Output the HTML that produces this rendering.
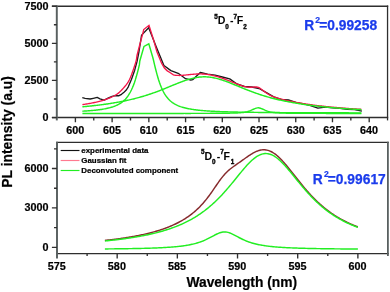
<!DOCTYPE html><html><head><meta charset="utf-8"><style>html,body{margin:0;padding:0;background:#fff;}svg{display:block;}</style></head><body><svg width="390" height="292" viewBox="0 0 390 292">
<rect width="390" height="292" fill="#fff"/>
<polyline points="82.30,97.70 85.10,98.30 90.10,99.00 93.30,98.30 97.20,97.40 100.00,98.80 104.20,100.10 108.00,98.20 112.10,96.40 115.00,95.70 119.00,95.70 121.50,94.30 124.00,92.20 126.30,90.00 128.30,86.80 131.50,79.20 134.70,70.20 137.00,61.50 139.00,51.50 141.60,35.10 148.70,27.80 156.20,46.80 163.90,65.50 170.90,70.60 178.20,73.30 185.60,78.70 190.80,80.00 192.90,79.60 200.30,72.50 207.60,74.10 215.00,75.20 222.30,77.00 229.70,78.90 237.00,84.00 244.40,86.50 251.70,87.00 259.10,88.50 266.40,92.70 273.80,96.80 281.10,99.30 288.50,100.00 295.80,102.40 303.20,103.90 310.50,105.70 317.90,108.10 325.20,107.20 332.60,107.90 339.90,108.30 347.30,109.30 354.60,109.70 361.90,111.20" fill="none" stroke="#1a1a1a" stroke-width="1.35" stroke-linejoin="round"/>
<polyline points="82.40,104.62 83.40,104.47 84.40,104.32 85.40,104.16 86.40,104.00 87.40,103.83 88.40,103.66 89.40,103.49 90.40,103.30 91.40,103.11 92.40,102.92 93.40,102.72 94.40,102.51 95.40,102.29 96.40,102.06 97.40,101.83 98.40,101.59 99.40,101.33 100.40,101.07 101.40,100.80 102.40,100.51 103.40,100.21 104.40,99.90 105.40,99.57 106.40,99.23 107.40,98.87 108.40,98.49 109.40,98.09 110.40,97.67 111.40,97.23 112.40,96.76 113.40,96.27 114.40,95.74 115.40,95.17 116.40,94.55 117.40,93.88 118.40,93.13 119.40,92.29 120.40,91.35 121.40,90.31 122.40,89.21 123.40,88.09 124.40,86.95 125.40,85.80 126.40,84.58 127.40,83.21 128.40,81.62 129.40,79.73 130.40,77.54 131.40,75.05 132.40,72.34 133.40,69.46 134.40,66.47 135.40,63.36 136.40,60.06 137.00,55.50 139.70,45.00 143.20,31.80 143.70,29.60 149.00,25.30 153.60,40.00 157.00,52.00 161.60,63.20 164.40,68.00 167.00,70.60 169.90,72.50 173.40,74.87 174.40,75.08 175.40,75.24 176.40,75.34 177.40,75.41 178.40,75.44 179.40,75.45 180.40,75.42 181.40,75.38 182.40,75.31 183.40,75.24 184.40,75.15 185.40,75.05 186.40,74.95 187.40,74.84 188.40,74.73 189.40,74.62 190.40,74.52 191.40,74.41 192.40,74.32 193.40,74.23 194.40,74.15 195.40,74.08 196.40,74.03 197.40,73.98 198.40,73.95 199.40,73.94 200.40,73.94 201.40,73.95 202.40,73.99 203.40,74.04 204.40,74.11 205.40,74.19 206.40,74.30 207.40,74.42 208.40,74.56 209.40,74.72 210.40,74.90 211.40,75.09 212.40,75.31 213.40,75.54 214.40,75.78 215.40,76.05 216.40,76.32 217.40,76.62 218.40,76.92 219.40,77.24 220.40,77.57 221.40,77.91 222.40,78.27 223.40,78.63 224.40,79.00 225.40,79.38 226.40,79.76 227.40,80.15 228.40,80.55 229.40,80.95 230.40,81.35 231.40,81.76 232.40,82.16 233.40,82.57 234.40,82.97 235.40,83.37 236.40,83.77 237.40,84.16 238.40,84.54 239.40,84.91 240.40,85.26 241.40,85.60 242.40,85.92 243.40,86.21 244.40,86.48 245.40,86.71 246.40,86.90 247.40,87.05 248.40,87.16 249.40,87.22 250.40,87.24 251.40,87.21 252.40,87.16 253.40,87.08 254.40,87.01 255.40,86.98 256.40,87.02 257.40,87.18 258.40,87.49 259.40,87.94 260.40,88.53 261.40,89.22 262.40,89.97 263.40,90.75 264.40,91.52 265.40,92.26 266.40,92.97 267.40,93.63 268.40,94.24 269.40,94.81 270.40,95.34 271.40,95.82 272.40,96.27 273.40,96.68 274.40,97.06 275.40,97.42 276.40,97.76 277.40,98.07 278.40,98.37 279.40,98.66 280.40,98.94 281.40,99.20 282.40,99.45 283.40,99.70 284.40,99.94 285.40,100.17 286.40,100.40 287.40,100.62 288.40,100.83 289.40,101.04 290.40,101.24 291.40,101.45 292.40,101.65 293.40,101.85 294.40,102.05 295.40,102.24 296.40,102.42 297.40,102.60 298.40,102.78 299.40,102.95 300.40,103.13 301.40,103.29 302.40,103.46 303.40,103.62 304.40,103.77 305.40,103.93 306.40,104.08 307.40,104.22 308.40,104.37 309.40,104.51 310.40,104.65 311.40,104.79 312.40,104.92 313.40,105.05 314.40,105.18 315.40,105.31 316.40,105.44 317.40,105.56 318.40,105.68 319.40,105.80 320.40,105.91 321.40,106.03 322.40,106.14 323.40,106.25 324.40,106.36 325.40,106.46 326.40,106.57 327.40,106.67 328.40,106.77 329.40,106.87 330.40,106.97 331.40,107.06 332.40,107.16 333.40,107.25 334.40,107.34 335.40,107.43 336.40,107.52 337.40,107.60 338.40,107.69 339.40,107.77 340.40,107.86 341.40,107.94 342.40,108.02 343.40,108.10 344.40,108.18 345.40,108.25 346.40,108.33 347.40,108.40 348.40,108.48 349.40,108.55 350.40,108.62 351.40,108.69 352.40,108.76 353.40,108.83 354.40,108.90 355.40,108.96 356.40,109.03 357.40,109.09 358.40,109.15 359.40,109.22 360.40,109.28 361.40,109.33" fill="none" stroke="#f5174a" stroke-width="1.35"/>
<polyline points="82.40,113.44 83.40,113.44 84.40,113.44 85.40,113.44 86.40,113.44 87.40,113.44 88.40,113.44 89.40,113.44 90.40,113.44 91.40,113.44 92.40,113.44 93.40,113.44 94.40,113.44 95.40,113.44 96.40,113.44 97.40,113.44 98.40,113.44 99.40,113.44 100.40,113.44 101.40,113.44 102.40,113.44 103.40,113.44 104.40,113.44 105.40,113.44 106.40,113.44 107.40,113.44 108.40,113.44 109.40,113.44 110.40,113.44 111.40,113.44 112.40,113.44 113.40,113.44 114.40,113.44 115.40,113.44 116.40,113.44 117.40,113.44 118.40,113.44 119.40,113.44 120.40,113.44 121.40,113.44 122.40,113.44 123.40,113.44 124.40,113.44 125.40,113.44 126.40,113.44 127.40,113.44 128.40,113.44 129.40,113.43 130.40,113.43 131.40,113.43 132.40,113.43 133.40,113.43 134.40,113.43 135.40,113.43 136.40,113.43 137.40,113.43 138.40,113.43 139.40,113.43 140.40,113.43 141.40,113.43 142.40,113.43 143.40,113.43 144.40,113.43 145.40,113.43 146.40,113.43 147.40,113.43 148.40,113.43 149.40,113.43 150.40,113.43 151.40,113.43 152.40,113.43 153.40,113.43 154.40,113.43 155.40,113.43 156.40,113.43 157.40,113.43 158.40,113.42 159.40,113.42 160.40,113.42 161.40,113.42 162.40,113.42 163.40,113.42 164.40,113.42 165.40,113.42 166.40,113.42 167.40,113.42 168.40,113.42 169.40,113.42 170.40,113.42 171.40,113.42 172.40,113.42 173.40,113.42 174.40,113.41 175.40,113.41 176.40,113.41 177.40,113.41 178.40,113.41 179.40,113.41 180.40,113.41 181.40,113.41 182.40,113.41 183.40,113.41 184.40,113.40 185.40,113.40 186.40,113.40 187.40,113.40 188.40,113.40 189.40,113.40 190.40,113.40 191.40,113.39 192.40,113.39 193.40,113.39 194.40,113.39 195.40,113.39 196.40,113.39 197.40,113.38 198.40,113.38 199.40,113.38 200.40,113.38 201.40,113.37 202.40,113.37 203.40,113.37 204.40,113.37 205.40,113.36 206.40,113.36 207.40,113.36 208.40,113.35 209.40,113.35 210.40,113.34 211.40,113.34 212.40,113.33 213.40,113.33 214.40,113.32 215.40,113.32 216.40,113.31 217.40,113.30 218.40,113.30 219.40,113.29 220.40,113.28 221.40,113.27 222.40,113.26 223.40,113.25 224.40,113.24 225.40,113.23 226.40,113.22 227.40,113.20 228.40,113.19 229.40,113.17 230.40,113.15 231.40,113.13 232.40,113.10 233.40,113.08 234.40,113.05 235.40,113.01 236.40,112.97 237.40,112.93 238.40,112.88 239.40,112.81 240.40,112.74 241.40,112.65 242.40,112.54 243.40,112.41 244.40,112.25 245.40,112.06 246.40,111.84 247.40,111.59 248.40,111.29 249.40,110.95 250.40,110.57 251.40,110.16 252.40,109.71 253.40,109.26 254.40,108.81 255.40,108.41 256.40,108.10 257.40,107.90 258.40,107.85 259.40,107.96 260.40,108.21 261.40,108.57 262.40,108.99 263.40,109.44 264.40,109.89 265.40,110.33 266.40,110.73 267.40,111.09 268.40,111.41 269.40,111.69 270.40,111.94 271.40,112.14 272.40,112.32 273.40,112.46 274.40,112.58 275.40,112.68 276.40,112.77 277.40,112.84 278.40,112.90 279.40,112.95 280.40,112.99 281.40,113.03 282.40,113.06 283.40,113.09 284.40,113.11 285.40,113.14 286.40,113.16 287.40,113.18 288.40,113.19 289.40,113.21 290.40,113.22 291.40,113.23 292.40,113.25 293.40,113.26 294.40,113.27 295.40,113.28 296.40,113.29 297.40,113.29 298.40,113.30 299.40,113.31 300.40,113.31 301.40,113.32 302.40,113.33 303.40,113.33 304.40,113.34 305.40,113.34 306.40,113.34 307.40,113.35 308.40,113.35 309.40,113.36 310.40,113.36 311.40,113.36 312.40,113.37 313.40,113.37 314.40,113.37 315.40,113.37 316.40,113.38 317.40,113.38 318.40,113.38 319.40,113.38 320.40,113.39 321.40,113.39 322.40,113.39 323.40,113.39 324.40,113.39 325.40,113.40 326.40,113.40 327.40,113.40 328.40,113.40 329.40,113.40 330.40,113.40 331.40,113.40 332.40,113.40 333.40,113.41 334.40,113.41 335.40,113.41 336.40,113.41 337.40,113.41 338.40,113.41 339.40,113.41 340.40,113.41 341.40,113.41 342.40,113.41 343.40,113.42 344.40,113.42 345.40,113.42 346.40,113.42 347.40,113.42 348.40,113.42 349.40,113.42 350.40,113.42 351.40,113.42 352.40,113.42 353.40,113.42 354.40,113.42 355.40,113.42 356.40,113.42 357.40,113.42 358.40,113.43 359.40,113.43 360.40,113.43 361.40,113.43" fill="none" stroke="#22ee22" stroke-width="1.45"/>
<polyline points="82.40,106.79 83.40,106.70 84.40,106.61 85.40,106.52 86.40,106.42 87.40,106.32 88.40,106.22 89.40,106.12 90.40,106.02 91.40,105.92 92.40,105.81 93.40,105.70 94.40,105.59 95.40,105.47 96.40,105.36 97.40,105.24 98.40,105.12 99.40,105.00 100.40,104.87 101.40,104.74 102.40,104.61 103.40,104.48 104.40,104.34 105.40,104.21 106.40,104.06 107.40,103.92 108.40,103.77 109.40,103.62 110.40,103.47 111.40,103.31 112.40,103.15 113.40,102.99 114.40,102.83 115.40,102.66 116.40,102.48 117.40,102.31 118.40,102.13 119.40,101.94 120.40,101.75 121.40,101.56 122.40,101.37 123.40,101.17 124.40,100.96 125.40,100.75 126.40,100.54 127.40,100.32 128.40,100.10 129.40,99.88 130.40,99.65 131.40,99.41 132.40,99.17 133.40,98.93 134.40,98.68 135.40,98.42 136.40,98.16 137.40,97.90 138.40,97.63 139.40,97.35 140.40,97.07 141.40,96.78 142.40,96.49 143.40,96.20 144.40,95.89 145.40,95.59 146.40,95.27 147.40,94.95 148.40,94.63 149.40,94.30 150.40,93.96 151.40,93.62 152.40,93.27 153.40,92.92 154.40,92.57 155.40,92.20 156.40,91.84 157.40,91.46 158.40,91.09 159.40,90.71 160.40,90.32 161.40,89.93 162.40,89.53 163.40,89.14 164.40,88.74 165.40,88.33 166.40,87.92 167.40,87.51 168.40,87.10 169.40,86.69 170.40,86.28 171.40,85.86 172.40,85.45 173.40,85.04 174.40,84.63 175.40,84.22 176.40,83.81 177.40,83.41 178.40,83.01 179.40,82.61 180.40,82.23 181.40,81.84 182.40,81.47 183.40,81.10 184.40,80.75 185.40,80.40 186.40,80.07 187.40,79.74 188.40,79.43 189.40,79.13 190.40,78.85 191.40,78.59 192.40,78.33 193.40,78.10 194.40,77.88 195.40,77.69 196.40,77.51 197.40,77.35 198.40,77.21 199.40,77.09 200.40,77.00 201.40,76.92 202.40,76.87 203.40,76.84 204.40,76.83 205.40,76.84 206.40,76.88 207.40,76.94 208.40,77.02 209.40,77.12 210.40,77.24 211.40,77.38 212.40,77.54 213.40,77.73 214.40,77.93 215.40,78.15 216.40,78.38 217.40,78.64 218.40,78.91 219.40,79.19 220.40,79.49 221.40,79.81 222.40,80.13 223.40,80.47 224.40,80.82 225.40,81.18 226.40,81.54 227.40,81.92 228.40,82.30 229.40,82.69 230.40,83.09 231.40,83.49 232.40,83.89 233.40,84.30 234.40,84.71 235.40,85.12 236.40,85.53 237.40,85.95 238.40,86.36 239.40,86.77 240.40,87.19 241.40,87.60 242.40,88.01 243.40,88.41 244.40,88.82 245.40,89.22 246.40,89.61 247.40,90.01 248.40,90.40 249.40,90.78 250.40,91.16 251.40,91.54 252.40,91.91 253.40,92.28 254.40,92.64 255.40,92.99 256.40,93.34 257.40,93.69 258.40,94.03 259.40,94.36 260.40,94.69 261.40,95.02 262.40,95.34 263.40,95.65 264.40,95.95 265.40,96.26 266.40,96.55 267.40,96.84 268.40,97.13 269.40,97.41 270.40,97.68 271.40,97.95 272.40,98.21 273.40,98.47 274.40,98.73 275.40,98.98 276.40,99.22 277.40,99.46 278.40,99.69 279.40,99.92 280.40,100.15 281.40,100.37 282.40,100.58 283.40,100.80 284.40,101.00 285.40,101.21 286.40,101.41 287.40,101.60 288.40,101.79 289.40,101.98 290.40,102.16 291.40,102.35 292.40,102.53 293.40,102.71 294.40,102.89 295.40,103.06 296.40,103.23 297.40,103.40 298.40,103.56 299.40,103.72 300.40,103.88 301.40,104.03 302.40,104.18 303.40,104.33 304.40,104.47 305.40,104.62 306.40,104.76 307.40,104.89 308.40,105.03 309.40,105.16 310.40,105.29 311.40,105.42 312.40,105.54 313.40,105.66 314.40,105.78 315.40,105.90 316.40,106.02 317.40,106.13 318.40,106.24 319.40,106.35 320.40,106.46 321.40,106.57 322.40,106.67 323.40,106.77 324.40,106.88 325.40,106.97 326.40,107.07 327.40,107.17 328.40,107.26 329.40,107.35 330.40,107.44 331.40,107.53 332.40,107.62 333.40,107.71 334.40,107.79 335.40,107.87 336.40,107.96 337.40,108.04 338.40,108.12 339.40,108.20 340.40,108.27 341.40,108.35 342.40,108.42 343.40,108.50 344.40,108.57 345.40,108.64 346.40,108.71 347.40,108.78 348.40,108.85 349.40,108.91 350.40,108.98 351.40,109.04 352.40,109.11 353.40,109.17 354.40,109.23 355.40,109.29 356.40,109.35 357.40,109.41 358.40,109.47 359.40,109.53 360.40,109.58 361.40,109.63" fill="none" stroke="#22ee22" stroke-width="1.45"/>
<polyline points="82.40,111.18 83.40,111.13 84.40,111.07 85.40,111.00 86.40,110.94 87.40,110.87 88.40,110.80 89.40,110.72 90.40,110.64 91.40,110.56 92.40,110.47 93.40,110.38 94.40,110.28 95.40,110.17 96.40,110.06 97.40,109.95 98.40,109.83 99.40,109.70 100.40,109.56 101.40,109.41 102.40,109.26 103.40,109.09 104.40,108.91 105.40,108.73 106.40,108.52 107.40,108.31 108.40,108.08 109.40,107.83 110.40,107.57 111.40,107.28 112.40,106.97 113.40,106.64 114.40,106.27 115.40,105.88 116.40,105.46 117.40,104.99 118.40,104.48 119.40,103.92 120.40,103.31 121.40,102.64 122.40,101.89 123.40,101.07 124.40,100.15 125.40,99.14 126.40,98.00 127.40,96.74 128.40,95.33 129.40,93.75 130.40,91.99 131.40,90.02 132.40,87.82 133.40,85.37 134.40,82.64 135.40,79.63 136.40,76.32 137.40,72.70 138.40,68.81 139.40,64.68 139.80,61.00 144.00,46.40 148.80,43.90 152.80,57.50 153.40,59.79 154.40,64.09 155.40,68.25 156.40,72.17 157.40,75.83 158.40,79.18 159.40,82.24 160.40,85.00 161.40,87.49 162.40,89.72 163.40,91.73 164.40,93.52 165.40,95.12 166.40,96.55 167.40,97.83 168.40,98.98 169.40,100.02 170.40,100.94 171.40,101.78 172.40,102.54 173.40,103.22 174.40,103.84 175.40,104.41 176.40,104.92 177.40,105.39 178.40,105.82 179.40,106.22 180.40,106.59 181.40,106.93 182.40,107.24 183.40,107.53 184.40,107.80 185.40,108.05 186.40,108.28 187.40,108.50 188.40,108.70 189.40,108.89 190.40,109.07 191.40,109.23 192.40,109.39 193.40,109.54 194.40,109.68 195.40,109.81 196.40,109.93 197.40,110.05 198.40,110.16 199.40,110.26 200.40,110.36 201.40,110.46 202.40,110.54 203.40,110.63 204.40,110.71 205.40,110.79 206.40,110.86 207.40,110.93 208.40,110.99 209.40,111.06 210.40,111.12 211.40,111.18 212.40,111.23 213.40,111.28 214.40,111.33 215.40,111.38 216.40,111.43 217.40,111.47 218.40,111.52 219.40,111.56 220.40,111.60 221.40,111.63 222.40,111.67 223.40,111.70 224.40,111.74 225.40,111.77 226.40,111.80 227.40,111.83 228.40,111.86 229.40,111.89 230.40,111.92 231.40,111.94 232.40,111.97 233.40,111.99 234.40,112.01 235.40,112.04 236.40,112.06 237.40,112.08 238.40,112.10 239.40,112.12 240.40,112.14 241.40,112.16 242.40,112.18 243.40,112.19 244.40,112.21 245.40,112.23 246.40,112.24 247.40,112.26 248.40,112.28 249.40,112.29 250.40,112.30 251.40,112.32 252.40,112.33 253.40,112.34 254.40,112.36 255.40,112.37 256.40,112.38 257.40,112.39 258.40,112.41 259.40,112.42 260.40,112.43 261.40,112.44 262.40,112.45 263.40,112.46 264.40,112.47 265.40,112.48 266.40,112.49 267.40,112.50 268.40,112.50 269.40,112.51 270.40,112.52 271.40,112.53 272.40,112.54 273.40,112.55 274.40,112.55 275.40,112.56 276.40,112.57 277.40,112.58 278.40,112.58 279.40,112.59 280.40,112.60 281.40,112.60 282.40,112.61 283.40,112.62 284.40,112.62 285.40,112.63 286.40,112.63 287.40,112.64 288.40,112.64 289.40,112.65 290.40,112.66 291.40,112.66 292.40,112.67 293.40,112.67 294.40,112.68 295.40,112.68 296.40,112.69 297.40,112.69 298.40,112.69 299.40,112.70 300.40,112.70 301.40,112.71 302.40,112.71 303.40,112.72 304.40,112.72 305.40,112.72 306.40,112.73 307.40,112.73 308.40,112.74 309.40,112.74 310.40,112.74 311.40,112.75 312.40,112.75 313.40,112.75 314.40,112.76 315.40,112.76 316.40,112.76 317.40,112.77 318.40,112.77 319.40,112.77 320.40,112.78 321.40,112.78 322.40,112.78 323.40,112.79 324.40,112.79 325.40,112.79 326.40,112.79 327.40,112.80 328.40,112.80 329.40,112.80 330.40,112.80 331.40,112.81 332.40,112.81 333.40,112.81 334.40,112.81 335.40,112.82 336.40,112.82 337.40,112.82 338.40,112.82 339.40,112.83 340.40,112.83 341.40,112.83 342.40,112.83 343.40,112.83 344.40,112.84 345.40,112.84 346.40,112.84 347.40,112.84 348.40,112.84 349.40,112.85 350.40,112.85 351.40,112.85 352.40,112.85 353.40,112.85 354.40,112.86 355.40,112.86 356.40,112.86 357.40,112.86 358.40,112.86 359.40,112.86 360.40,112.87 361.40,112.87" fill="none" stroke="#22ee22" stroke-width="1.45"/>
<polyline points="104.90,240.42 105.90,240.31 106.90,240.20 107.90,240.09 108.90,239.98 109.90,239.87 110.90,239.75 111.90,239.63 112.90,239.51 113.90,239.39 114.90,239.26 115.90,239.14 116.90,239.01 117.90,238.87 118.90,238.74 119.90,238.60 120.90,238.46 121.90,238.32 122.90,238.18 123.90,238.03 124.90,237.88 125.90,237.72 126.90,237.57 127.90,237.41 128.90,237.25 129.90,237.08 130.90,236.91 131.90,236.74 132.90,236.56 133.90,236.38 134.90,236.20 135.90,236.01 136.90,235.82 137.90,235.63 138.90,235.43 139.90,235.23 140.90,235.02 141.90,234.81 142.90,234.59 143.90,234.37 144.90,234.15 145.90,233.92 146.90,233.68 147.90,233.44 148.90,233.20 149.90,232.94 150.90,232.69 151.90,232.42 152.90,232.15 153.90,231.88 154.90,231.60 155.90,231.31 156.90,231.01 157.90,230.71 158.90,230.40 159.90,230.09 160.90,229.76 161.90,229.43 162.90,229.09 163.90,228.74 164.90,228.38 165.90,228.01 166.90,227.64 167.90,227.25 168.90,226.85 169.90,226.45 170.90,226.03 171.90,225.60 172.90,225.16 173.90,224.71 174.90,224.24 175.90,223.76 176.90,223.27 177.90,222.76 178.90,222.24 179.90,221.71 180.90,221.16 181.90,220.59 182.90,220.00 183.90,219.40 184.90,218.78 185.90,218.14 186.90,217.48 187.90,216.80 188.90,216.10 189.90,215.37 190.90,214.62 191.90,213.85 192.90,213.05 193.90,212.22 194.90,211.37 195.90,210.49 196.90,209.58 197.90,208.63 198.90,207.66 199.90,206.65 200.90,205.61 201.90,204.53 202.90,203.41 203.90,202.26 204.90,201.08 205.90,199.85 206.90,198.59 207.90,197.30 208.90,195.97 209.90,194.61 210.90,193.22 211.90,191.80 212.90,190.36 213.90,188.91 214.90,187.45 215.90,185.98 216.90,184.52 217.90,183.07 218.90,181.65 219.90,180.26 220.90,178.90 221.90,177.60 222.90,176.35 223.90,175.16 224.90,174.03 225.90,172.96 226.90,171.96 227.90,171.01 228.90,170.12 229.90,169.28 230.90,168.48 231.90,167.71 232.90,166.97 233.90,166.25 234.90,165.55 235.90,164.85 236.90,164.16 237.90,163.46 238.90,162.77 239.90,162.07 240.90,161.36 241.90,160.65 242.90,159.93 243.90,159.22 244.90,158.50 245.90,157.78 246.90,157.08 247.90,156.38 248.90,155.69 249.90,155.03 250.90,154.38 251.90,153.76 252.90,153.17 253.90,152.62 254.90,152.10 255.90,151.63 256.90,151.20 257.90,150.82 258.90,150.50 259.90,150.23 260.90,150.02 261.90,149.87 262.90,149.78 263.90,149.76 264.90,149.80 265.90,149.92 266.90,150.10 267.90,150.34 268.90,150.66 269.90,151.05 270.90,151.50 271.90,152.01 272.90,152.59 273.90,153.23 274.90,153.93 275.90,154.69 276.90,155.51 277.90,156.37 278.90,157.29 279.90,158.25 280.90,159.26 281.90,160.30 282.90,161.38 283.90,162.49 284.90,163.64 285.90,164.81 286.90,166.00 287.90,167.21 288.90,168.44 289.90,169.68 290.90,170.94 291.90,172.20 292.90,173.47 293.90,174.74 294.90,176.02 295.90,177.29 296.90,178.56 297.90,179.82 298.90,181.07 299.90,182.32 300.90,183.56 301.90,184.79 302.90,186.00 303.90,187.20 304.90,188.38 305.90,189.55 306.90,190.70 307.90,191.84 308.90,192.96 309.90,194.06 310.90,195.14 311.90,196.20 312.90,197.25 313.90,198.27 314.90,199.28 315.90,200.27 316.90,201.23 317.90,202.18 318.90,203.11 319.90,204.02 320.90,204.91 321.90,205.78 322.90,206.63 323.90,207.47 324.90,208.28 325.90,209.08 326.90,209.86 327.90,210.62 328.90,211.37 329.90,212.10 330.90,212.81 331.90,213.51 332.90,214.19 333.90,214.85 334.90,215.50 335.90,216.13 336.90,216.75 337.90,217.36 338.90,217.95 339.90,218.53 340.90,219.09 341.90,219.64 342.90,220.18 343.90,220.71 344.90,221.22 345.90,221.72 346.90,222.22 347.90,222.69 348.90,223.16 349.90,223.62 350.90,224.07 351.90,224.51 352.90,224.93 353.90,225.35 354.90,225.76 355.90,226.16 356.90,226.55 357.90,226.93" fill="none" stroke="#862a2c" stroke-width="1.45"/>
<polyline points="104.90,248.94 105.90,248.93 106.90,248.92 107.90,248.91 108.90,248.90 109.90,248.89 110.90,248.88 111.90,248.87 112.90,248.86 113.90,248.85 114.90,248.84 115.90,248.83 116.90,248.82 117.90,248.80 118.90,248.79 119.90,248.78 120.90,248.77 121.90,248.75 122.90,248.74 123.90,248.73 124.90,248.71 125.90,248.70 126.90,248.68 127.90,248.67 128.90,248.65 129.90,248.64 130.90,248.62 131.90,248.60 132.90,248.58 133.90,248.57 134.90,248.55 135.90,248.53 136.90,248.51 137.90,248.49 138.90,248.46 139.90,248.44 140.90,248.42 141.90,248.40 142.90,248.37 143.90,248.35 144.90,248.32 145.90,248.29 146.90,248.26 147.90,248.23 148.90,248.20 149.90,248.17 150.90,248.14 151.90,248.11 152.90,248.07 153.90,248.04 154.90,248.00 155.90,247.96 156.90,247.92 157.90,247.88 158.90,247.83 159.90,247.79 160.90,247.74 161.90,247.69 162.90,247.64 163.90,247.58 164.90,247.53 165.90,247.47 166.90,247.40 167.90,247.34 168.90,247.27 169.90,247.20 170.90,247.13 171.90,247.05 172.90,246.97 173.90,246.89 174.90,246.80 175.90,246.71 176.90,246.61 177.90,246.50 178.90,246.40 179.90,246.28 180.90,246.16 181.90,246.04 182.90,245.91 183.90,245.77 184.90,245.62 185.90,245.46 186.90,245.30 187.90,245.13 188.90,244.94 189.90,244.75 190.90,244.55 191.90,244.33 192.90,244.10 193.90,243.86 194.90,243.60 195.90,243.33 196.90,243.05 197.90,242.75 198.90,242.43 199.90,242.09 200.90,241.73 201.90,241.36 202.90,240.97 203.90,240.55 204.90,240.12 205.90,239.67 206.90,239.19 207.90,238.70 208.90,238.20 209.90,237.68 210.90,237.15 211.90,236.61 212.90,236.07 213.90,235.53 214.90,235.00 215.90,234.48 216.90,233.99 217.90,233.54 218.90,233.12 219.90,232.76 220.90,232.45 221.90,232.21 222.90,232.04 223.90,231.95 224.90,231.93 225.90,232.00 226.90,232.14 227.90,232.36 228.90,232.64 229.90,232.99 230.90,233.38 231.90,233.83 232.90,234.30 233.90,234.81 234.90,235.33 235.90,235.87 236.90,236.41 237.90,236.95 238.90,237.49 239.90,238.01 240.90,238.52 241.90,239.02 242.90,239.50 243.90,239.96 244.90,240.40 245.90,240.82 246.90,241.22 247.90,241.60 248.90,241.96 249.90,242.31 250.90,242.63 251.90,242.94 252.90,243.23 253.90,243.51 254.90,243.77 255.90,244.02 256.90,244.25 257.90,244.47 258.90,244.68 259.90,244.88 260.90,245.06 261.90,245.24 262.90,245.41 263.90,245.56 264.90,245.71 265.90,245.86 266.90,245.99 267.90,246.12 268.90,246.24 269.90,246.36 270.90,246.47 271.90,246.57 272.90,246.67 273.90,246.77 274.90,246.86 275.90,246.94 276.90,247.02 277.90,247.10 278.90,247.18 279.90,247.25 280.90,247.32 281.90,247.38 282.90,247.44 283.90,247.50 284.90,247.56 285.90,247.62 286.90,247.67 287.90,247.72 288.90,247.77 289.90,247.82 290.90,247.86 291.90,247.90 292.90,247.94 293.90,247.98 294.90,248.02 295.90,248.06 296.90,248.09 297.90,248.13 298.90,248.16 299.90,248.19 300.90,248.22 301.90,248.25 302.90,248.28 303.90,248.31 304.90,248.34 305.90,248.36 306.90,248.39 307.90,248.41 308.90,248.43 309.90,248.46 310.90,248.48 311.90,248.50 312.90,248.52 313.90,248.54 314.90,248.56 315.90,248.58 316.90,248.60 317.90,248.61 318.90,248.63 319.90,248.65 320.90,248.66 321.90,248.68 322.90,248.69 323.90,248.71 324.90,248.72 325.90,248.74 326.90,248.75 327.90,248.76 328.90,248.78 329.90,248.79 330.90,248.80 331.90,248.81 332.90,248.82 333.90,248.83 334.90,248.85 335.90,248.86 336.90,248.87 337.90,248.88 338.90,248.89 339.90,248.90 340.90,248.91 341.90,248.91 342.90,248.92 343.90,248.93 344.90,248.94 345.90,248.95 346.90,248.96 347.90,248.97 348.90,248.97 349.90,248.98 350.90,248.99 351.90,248.99 352.90,249.00 353.90,249.01 354.90,249.02 355.90,249.02 356.90,249.03 357.90,249.03" fill="none" stroke="#22ee22" stroke-width="1.45"/>
<polyline points="104.90,240.98 105.90,240.89 106.90,240.79 107.90,240.68 108.90,240.58 109.90,240.48 110.90,240.37 111.90,240.26 112.90,240.15 113.90,240.04 114.90,239.92 115.90,239.81 116.90,239.69 117.90,239.57 118.90,239.45 119.90,239.32 120.90,239.19 121.90,239.07 122.90,238.93 123.90,238.80 124.90,238.66 125.90,238.52 126.90,238.38 127.90,238.24 128.90,238.09 129.90,237.94 130.90,237.79 131.90,237.64 132.90,237.48 133.90,237.32 134.90,237.15 135.90,236.99 136.90,236.82 137.90,236.64 138.90,236.47 139.90,236.29 140.90,236.10 141.90,235.91 142.90,235.72 143.90,235.53 144.90,235.33 145.90,235.12 146.90,234.92 147.90,234.71 148.90,234.49 149.90,234.27 150.90,234.05 151.90,233.82 152.90,233.58 153.90,233.34 154.90,233.10 155.90,232.85 156.90,232.60 157.90,232.34 158.90,232.07 159.90,231.80 160.90,231.52 161.90,231.24 162.90,230.95 163.90,230.66 164.90,230.36 165.90,230.05 166.90,229.73 167.90,229.41 168.90,229.08 169.90,228.74 170.90,228.40 171.90,228.05 172.90,227.69 173.90,227.32 174.90,226.94 175.90,226.56 176.90,226.16 177.90,225.76 178.90,225.35 179.90,224.93 180.90,224.49 181.90,224.05 182.90,223.60 183.90,223.14 184.90,222.66 185.90,222.18 186.90,221.68 187.90,221.17 188.90,220.65 189.90,220.12 190.90,219.58 191.90,219.02 192.90,218.45 193.90,217.86 194.90,217.27 195.90,216.65 196.90,216.03 197.90,215.39 198.90,214.73 199.90,214.06 200.90,213.37 201.90,212.67 202.90,211.95 203.90,211.21 204.90,210.46 205.90,209.69 206.90,208.90 207.90,208.10 208.90,207.27 209.90,206.43 210.90,205.57 211.90,204.69 212.90,203.80 213.90,202.88 214.90,201.95 215.90,201.00 216.90,200.02 217.90,199.03 218.90,198.03 219.90,197.00 220.90,195.95 221.90,194.89 222.90,193.81 223.90,192.71 224.90,191.59 225.90,190.46 226.90,189.32 227.90,188.15 228.90,186.98 229.90,185.79 230.90,184.59 231.90,183.39 232.90,182.17 233.90,180.94 234.90,179.71 235.90,178.48 236.90,177.25 237.90,176.01 238.90,174.78 239.90,173.55 240.90,172.34 241.90,171.13 242.90,169.94 243.90,168.76 244.90,167.60 245.90,166.46 246.90,165.36 247.90,164.28 248.90,163.23 249.90,162.22 250.90,161.25 251.90,160.32 252.90,159.44 253.90,158.61 254.90,157.83 255.90,157.11 256.90,156.45 257.90,155.85 258.90,155.32 259.90,154.85 260.90,154.46 261.90,154.13 262.90,153.88 263.90,153.70 264.90,153.59 265.90,153.56 266.90,153.61 267.90,153.73 268.90,153.92 269.90,154.19 270.90,154.53 271.90,154.94 272.90,155.42 273.90,155.97 274.90,156.58 275.90,157.25 276.90,157.98 277.90,158.77 278.90,159.61 279.90,160.50 280.90,161.44 281.90,162.42 282.90,163.44 283.90,164.49 284.90,165.57 285.90,166.69 286.90,167.83 287.90,168.99 288.90,170.17 289.90,171.37 290.90,172.58 291.90,173.80 292.90,175.03 293.90,176.26 294.90,177.49 295.90,178.73 296.90,179.96 297.90,181.19 298.90,182.41 299.90,183.63 300.90,184.84 301.90,186.03 302.90,187.22 303.90,188.39 304.90,189.55 305.90,190.69 306.90,191.82 307.90,192.93 308.90,194.02 309.90,195.10 310.90,196.16 311.90,197.21 312.90,198.23 313.90,199.23 314.90,200.22 315.90,201.19 316.90,202.14 317.90,203.07 318.90,203.98 319.90,204.87 320.90,205.75 321.90,206.60 322.90,207.44 323.90,208.26 324.90,209.06 325.90,209.84 326.90,210.61 327.90,211.36 328.90,212.09 329.90,212.81 330.90,213.51 331.90,214.19 332.90,214.86 333.90,215.52 334.90,216.15 335.90,216.78 336.90,217.39 337.90,217.98 338.90,218.56 339.90,219.13 340.90,219.69 341.90,220.23 342.90,220.76 343.90,221.28 344.90,221.78 345.90,222.28 346.90,222.76 347.90,223.23 348.90,223.69 349.90,224.14 350.90,224.58 351.90,225.01 352.90,225.43 353.90,225.84 354.90,226.24 355.90,226.63 356.90,227.02 357.90,227.39" fill="none" stroke="#22ee22" stroke-width="1.45"/>
<path d="M51.9,6.2H388.2 M51.9,117.55H388.2" stroke="#2e2e2e" stroke-width="1.4" fill="none"/>
<path d="M56.8,5.5V120.4" stroke="#596060" stroke-width="1.95" fill="none"/>
<path d="M387.55,5.5V120.4" stroke="#2e2e2e" stroke-width="1.3" fill="none"/>
<path d="M56.2,142.35H388.8 M56.2,253.6H388.8" stroke="#2e2e2e" stroke-width="1.35" fill="none"/>
<path d="M57.0,141.7V258.6" stroke="#596060" stroke-width="1.95" fill="none"/>
<path d="M387.9,141.7V256.1" stroke="#596060" stroke-width="1.8" fill="none"/>
<path d="M51.90,117.55H56.8 M53.90,98.99H56.8 M51.90,80.43H56.8 M53.90,61.88H56.8 M51.90,43.32H56.8 M53.90,24.76H56.8 M51.90,6.20H56.8 M75.40,117.55V122.3 M93.76,117.55V120.4 M112.12,117.55V122.3 M130.49,117.55V120.4 M148.85,117.55V122.3 M167.21,117.55V120.4 M185.57,117.55V122.3 M203.94,117.55V120.4 M222.30,117.55V122.3 M240.66,117.55V120.4 M259.02,117.55V122.3 M277.39,117.55V120.4 M295.75,117.55V122.3 M314.11,117.55V120.4 M332.48,117.55V122.3 M350.84,117.55V120.4 M369.20,117.55V122.3 M51.90,247.30H57.0 M54.00,227.60H57.0 M51.90,207.90H57.0 M54.00,188.20H57.0 M51.90,168.50H57.0 M54.00,148.80H57.0 M87.09,253.6V256.1 M117.17,253.6V258.6 M147.26,253.6V256.1 M177.35,253.6V258.6 M207.44,253.6V256.1 M237.53,253.6V258.6 M267.61,253.6V256.1 M297.70,253.6V258.6 M327.79,253.6V256.1 M357.88,253.6V258.6" fill="none" stroke="#303030" stroke-width="1.35"/>
<text transform="translate(48.50,121.10) scale(1.06,1)" text-anchor="end" font-family="Liberation Sans, Arial, sans-serif" font-weight="bold" font-size="10.2" fill="#000" stroke="#000" stroke-width="0.2">0</text>
<text transform="translate(48.50,83.98) scale(1.06,1)" text-anchor="end" font-family="Liberation Sans, Arial, sans-serif" font-weight="bold" font-size="10.2" fill="#000" stroke="#000" stroke-width="0.2">2500</text>
<text transform="translate(48.50,46.87) scale(1.06,1)" text-anchor="end" font-family="Liberation Sans, Arial, sans-serif" font-weight="bold" font-size="10.2" fill="#000" stroke="#000" stroke-width="0.2">5000</text>
<text transform="translate(48.50,9.75) scale(1.06,1)" text-anchor="end" font-family="Liberation Sans, Arial, sans-serif" font-weight="bold" font-size="10.2" fill="#000" stroke="#000" stroke-width="0.2">7500</text>
<text transform="translate(75.30,133.60) scale(1.06,1)" text-anchor="middle" font-family="Liberation Sans, Arial, sans-serif" font-weight="bold" font-size="10.2" fill="#000" stroke="#000" stroke-width="0.2">600</text>
<text transform="translate(112.03,133.60) scale(1.06,1)" text-anchor="middle" font-family="Liberation Sans, Arial, sans-serif" font-weight="bold" font-size="10.2" fill="#000" stroke="#000" stroke-width="0.2">605</text>
<text transform="translate(148.75,133.60) scale(1.06,1)" text-anchor="middle" font-family="Liberation Sans, Arial, sans-serif" font-weight="bold" font-size="10.2" fill="#000" stroke="#000" stroke-width="0.2">610</text>
<text transform="translate(185.47,133.60) scale(1.06,1)" text-anchor="middle" font-family="Liberation Sans, Arial, sans-serif" font-weight="bold" font-size="10.2" fill="#000" stroke="#000" stroke-width="0.2">615</text>
<text transform="translate(222.20,133.60) scale(1.06,1)" text-anchor="middle" font-family="Liberation Sans, Arial, sans-serif" font-weight="bold" font-size="10.2" fill="#000" stroke="#000" stroke-width="0.2">620</text>
<text transform="translate(258.92,133.60) scale(1.06,1)" text-anchor="middle" font-family="Liberation Sans, Arial, sans-serif" font-weight="bold" font-size="10.2" fill="#000" stroke="#000" stroke-width="0.2">625</text>
<text transform="translate(295.65,133.60) scale(1.06,1)" text-anchor="middle" font-family="Liberation Sans, Arial, sans-serif" font-weight="bold" font-size="10.2" fill="#000" stroke="#000" stroke-width="0.2">630</text>
<text transform="translate(332.38,133.60) scale(1.06,1)" text-anchor="middle" font-family="Liberation Sans, Arial, sans-serif" font-weight="bold" font-size="10.2" fill="#000" stroke="#000" stroke-width="0.2">635</text>
<text transform="translate(369.10,133.60) scale(1.06,1)" text-anchor="middle" font-family="Liberation Sans, Arial, sans-serif" font-weight="bold" font-size="10.2" fill="#000" stroke="#000" stroke-width="0.2">640</text>
<text transform="translate(48.50,250.85) scale(1.06,1)" text-anchor="end" font-family="Liberation Sans, Arial, sans-serif" font-weight="bold" font-size="10.2" fill="#000" stroke="#000" stroke-width="0.2">0</text>
<text transform="translate(48.50,211.45) scale(1.06,1)" text-anchor="end" font-family="Liberation Sans, Arial, sans-serif" font-weight="bold" font-size="10.2" fill="#000" stroke="#000" stroke-width="0.2">3000</text>
<text transform="translate(48.50,172.05) scale(1.06,1)" text-anchor="end" font-family="Liberation Sans, Arial, sans-serif" font-weight="bold" font-size="10.2" fill="#000" stroke="#000" stroke-width="0.2">6000</text>
<text transform="translate(56.70,269.60) scale(1.06,1)" text-anchor="middle" font-family="Liberation Sans, Arial, sans-serif" font-weight="bold" font-size="10.2" fill="#000" stroke="#000" stroke-width="0.2">575</text>
<text transform="translate(116.88,269.60) scale(1.06,1)" text-anchor="middle" font-family="Liberation Sans, Arial, sans-serif" font-weight="bold" font-size="10.2" fill="#000" stroke="#000" stroke-width="0.2">580</text>
<text transform="translate(177.05,269.60) scale(1.06,1)" text-anchor="middle" font-family="Liberation Sans, Arial, sans-serif" font-weight="bold" font-size="10.2" fill="#000" stroke="#000" stroke-width="0.2">585</text>
<text transform="translate(237.22,269.60) scale(1.06,1)" text-anchor="middle" font-family="Liberation Sans, Arial, sans-serif" font-weight="bold" font-size="10.2" fill="#000" stroke="#000" stroke-width="0.2">590</text>
<text transform="translate(297.40,269.60) scale(1.06,1)" text-anchor="middle" font-family="Liberation Sans, Arial, sans-serif" font-weight="bold" font-size="10.2" fill="#000" stroke="#000" stroke-width="0.2">595</text>
<text transform="translate(357.57,269.60) scale(1.06,1)" text-anchor="middle" font-family="Liberation Sans, Arial, sans-serif" font-weight="bold" font-size="10.2" fill="#000" stroke="#000" stroke-width="0.2">600</text>
<text x="241.8" y="287.4" text-anchor="middle" font-family="Liberation Sans, Arial, sans-serif" font-weight="bold" font-size="13.8" stroke="#000" stroke-width="0.2">Wavelength (nm)</text>
<text transform="translate(11.9,131.9) rotate(-90)" x="0" y="0" text-anchor="middle" font-family="Liberation Sans, Arial, sans-serif" font-weight="bold" font-size="13.9" stroke="#000" stroke-width="0.2">PL intensity (a.u)</text>
<text x="214.30" y="18.70" font-family="Liberation Sans, Arial, sans-serif" font-weight="bold" font-size="6.3" stroke="#000" stroke-width="0.35">5</text><text x="217.80" y="24.40" font-family="Liberation Sans, Arial, sans-serif" font-weight="bold" font-size="10.6">D</text><text x="225.30" y="28.70" font-family="Liberation Sans, Arial, sans-serif" font-weight="bold" font-size="6.3" stroke="#000" stroke-width="0.35">0</text><text x="230.00" y="24.40" font-family="Liberation Sans, Arial, sans-serif" font-weight="bold" font-size="10.6">-</text><text x="233.40" y="18.70" font-family="Liberation Sans, Arial, sans-serif" font-weight="bold" font-size="6.3" stroke="#000" stroke-width="0.35">7</text><text x="236.80" y="24.40" font-family="Liberation Sans, Arial, sans-serif" font-weight="bold" font-size="10.6">F</text><text x="243.30" y="28.70" font-family="Liberation Sans, Arial, sans-serif" font-weight="bold" font-size="6.3" stroke="#000" stroke-width="0.35">2</text>
<text x="201.10" y="153.90" font-family="Liberation Sans, Arial, sans-serif" font-weight="bold" font-size="6.3" stroke="#000" stroke-width="0.35">5</text><text x="204.60" y="159.60" font-family="Liberation Sans, Arial, sans-serif" font-weight="bold" font-size="10.6">D</text><text x="212.10" y="163.90" font-family="Liberation Sans, Arial, sans-serif" font-weight="bold" font-size="6.3" stroke="#000" stroke-width="0.35">0</text><text x="216.80" y="159.60" font-family="Liberation Sans, Arial, sans-serif" font-weight="bold" font-size="10.6">-</text><text x="220.20" y="153.90" font-family="Liberation Sans, Arial, sans-serif" font-weight="bold" font-size="6.3" stroke="#000" stroke-width="0.35">7</text><text x="223.60" y="159.60" font-family="Liberation Sans, Arial, sans-serif" font-weight="bold" font-size="10.6">F</text><text x="230.70" y="163.90" font-family="Liberation Sans, Arial, sans-serif" font-weight="bold" font-size="6.3" stroke="#000" stroke-width="0.35">1</text>
<text x="304.20" y="30.20" font-family="Liberation Sans, Arial, sans-serif" font-weight="bold" font-size="13.8" fill="#1b3cec" stroke="#1b3cec" stroke-width="0.25">R</text><text x="315.30" y="23.10" font-family="Liberation Sans, Arial, sans-serif" font-weight="bold" font-size="8.6" fill="#1b3cec" stroke="#1b3cec" stroke-width="0.2">2</text><text x="319.20" y="30.20" font-family="Liberation Sans, Arial, sans-serif" font-weight="bold" font-size="13.8" fill="#1b3cec" stroke="#1b3cec" stroke-width="0.25">=0.99258</text>
<text x="312.80" y="183.80" font-family="Liberation Sans, Arial, sans-serif" font-weight="bold" font-size="13.8" fill="#1b3cec" stroke="#1b3cec" stroke-width="0.25">R</text><text x="323.90" y="176.70" font-family="Liberation Sans, Arial, sans-serif" font-weight="bold" font-size="8.6" fill="#1b3cec" stroke="#1b3cec" stroke-width="0.2">2</text><text x="327.80" y="183.80" font-family="Liberation Sans, Arial, sans-serif" font-weight="bold" font-size="13.8" fill="#1b3cec" stroke="#1b3cec" stroke-width="0.25">=0.99617</text>
<line x1="60.7" y1="150.50" x2="79.5" y2="150.50" stroke="#111" stroke-width="1.15"/>
<text x="81.3" y="153.10" font-family="Liberation Sans, Arial, sans-serif" font-weight="bold" font-size="7.9" stroke="#000" stroke-width="0.22">experimental data</text>
<line x1="60.7" y1="160.50" x2="79.5" y2="160.50" stroke="#ff7a90" stroke-width="1.15"/>
<text x="81.3" y="162.85" font-family="Liberation Sans, Arial, sans-serif" font-weight="bold" font-size="7.9" stroke="#000" stroke-width="0.22">Gaussian fit</text>
<line x1="60.7" y1="170.50" x2="79.5" y2="170.50" stroke="#22ee22" stroke-width="1.15"/>
<text x="81.3" y="172.60" font-family="Liberation Sans, Arial, sans-serif" font-weight="bold" font-size="7.9" stroke="#000" stroke-width="0.22">Deconvoluted component</text>
</svg></body></html>
